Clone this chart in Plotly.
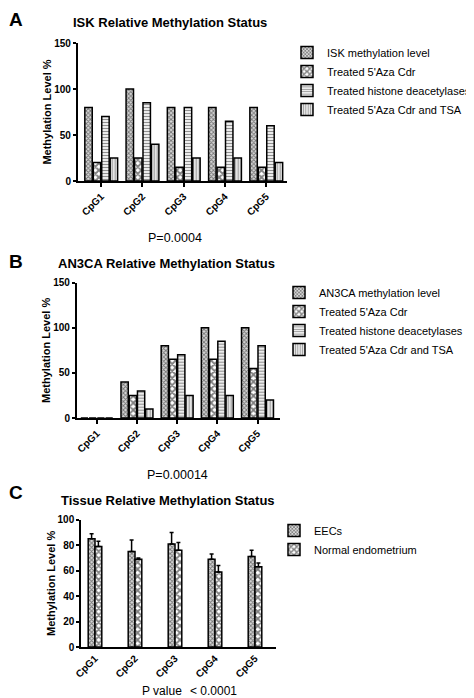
import plotly.graph_objects as go

W, H = 474, 698
# the page body adds an 8px offset; layout positions below are given in
# screenshot pixels and converted to paper fractions with that offset removed
OFF = 8

categories = ["CpG1", "CpG2", "CpG3", "CpG4", "CpG5"]

# Panel A (ISK)
a_names = ["ISK methylation level", "Treated 5'Aza Cdr",
           "Treated histone deacetylases", "Treated 5'Aza Cdr and TSA"]
a_isk = [80, 100, 80, 80, 80]
a_aza = [20, 25, 15, 15, 15]
a_hdac = [70, 85, 80, 65, 60]
a_tsa = [25, 40, 25, 25, 20]

# Panel B (AN3CA)
b_names = ["AN3CA methylation level", "Treated 5'Aza Cdr",
           "Treated histone deacetylases", "Treated 5'Aza Cdr and TSA"]
b_an3ca = [0, 40, 80, 100, 100]
b_aza = [0, 25, 65, 65, 55]
b_hdac = [0, 30, 70, 85, 80]
b_tsa = [0, 10, 25, 25, 20]

# Panel C (Tissue)
c_names = ["EECs", "Normal endometrium"]
c_eec = [85, 75, 81, 69, 71]
c_eec_err = [4, 9, 9, 4, 5]
c_norm = [79, 69, 76, 59, 63]
c_norm_err = [4, 1, 6, 5, 3]

FONT = "Liberation Sans, Arial, sans-serif"

def px_x(p):
    return (p - OFF) / W

def px_y(p):
    return 1 - (p - OFF) / H

patterns = [
    dict(shape="x", size=3, solidity=0.5, fgcolor="#111", bgcolor="#d8d8d8"),
    dict(shape="x", size=5, solidity=0.6, fgcolor="black", bgcolor="white"),
    dict(shape="-", size=3, solidity=0.45, fgcolor="#222", bgcolor="white"),
    dict(shape="|", size=3, solidity=0.35, fgcolor="#555", bgcolor="#e4e4e4"),
]

fig = go.Figure()

def add_bars(names, series, xa, ya, legend):
    for i, (n, s) in enumerate(zip(names, series)):
        fig.add_trace(go.Bar(
            x=categories, y=s, name=n, xaxis=xa, yaxis=ya, legend=legend,
            marker=dict(color="white", line=dict(color="black", width=1.5),
                        pattern=patterns[i]),
            offsetgroup=f"{xa}{i}",
        ))

add_bars(a_names, [a_isk, a_aza, a_hdac, a_tsa], "x", "y", "legend")
add_bars(b_names, [b_an3ca, b_aza, b_hdac, b_tsa], "x2", "y2", "legend2")

c_offsets = [-0.17, 0.0]
for i, (n, s, e) in enumerate(zip(c_names, [c_eec, c_norm], [c_eec_err, c_norm_err])):
    fig.add_trace(go.Bar(
        x=categories, y=s, name=n, xaxis="x3", yaxis="y3", legend="legend3",
        marker=dict(color="white", line=dict(color="black", width=1.5),
                    pattern=patterns[i]),
        width=0.17, offset=c_offsets[i],
        error_y=dict(type="data", symmetric=False, array=e,
                     arrayminus=[0] * len(e), color="black",
                     thickness=1.5, width=2),
    ))

tickfont = dict(family=FONT, size=10, color="black", weight="bold")
titlefont = dict(family=FONT, size=11, color="black", weight="bold")

def xaxis(dom, rng, ya, ticks="outside"):
    return dict(domain=dom, range=rng, anchor=ya, showline=True,
                linecolor="black", linewidth=1.5, ticks=ticks, ticklen=4,
                tickwidth=1.5, tickcolor="black", tickangle=-45,
                tickfont=tickfont, showgrid=False, zeroline=False,
                fixedrange=True)

def yaxis(dom, rng, dtick, xa, standoff):
    return dict(domain=dom, range=rng, anchor=xa, showline=True,
                linecolor="black", linewidth=1.5, ticks="outside", ticklen=3,
                tickwidth=1.5, tickcolor="black", dtick=dtick,
                tickfont=tickfont, showgrid=False, zeroline=False,
                title=dict(text="Methylation Level %", font=titlefont,
                           standoff=standoff),
                fixedrange=True)

legend_font = dict(family=FONT, size=11, color="black")

fig.update_layout(
    width=W, height=H,
    margin=dict(l=0, r=0, t=0, b=0, pad=0, autoexpand=False),
    paper_bgcolor="white", plot_bgcolor="white",
    barmode="group",
    bargap=0.18, bargroupgap=0.12,
    showlegend=True,
    font=dict(family=FONT, color="black"),
    xaxis=xaxis([px_x(77.7), px_x(287.3)], [-0.57, 4.51], "y"),
    yaxis=yaxis([px_y(181), px_y(43)], [0, 150], 50, "x", 0),
    xaxis2=xaxis([px_x(76.7), px_x(280)], [-0.5, 4.56], "y2"),
    yaxis2=yaxis([px_y(418), px_y(282.7)], [0, 150], 50, "x2", 0),
    xaxis3=xaxis([px_x(81), px_x(276)], [-0.35, 4.525], "y3", ticks=""),
    yaxis3=yaxis([px_y(647), px_y(519.7)], [0, 100], 20, "x3", 0),
    legend=dict(x=px_x(287), y=px_y(38), xanchor="left", yanchor="top",
                font=legend_font, bgcolor="rgba(0,0,0,0)"),
    legend2=dict(x=px_x(279), y=px_y(278), xanchor="left", yanchor="top",
                 font=legend_font, bgcolor="rgba(0,0,0,0)"),
    legend3=dict(x=px_x(274), y=px_y(516), xanchor="left", yanchor="top",
                 font=legend_font, bgcolor="rgba(0,0,0,0)"),
)

# panel letters, anchored at the left edge of the figure
fig.add_annotation(
    text="A", x=0, y=1, xref="paper", yref="paper",
    xanchor="left", yanchor="top", showarrow=False, borderpad=0,
    font=dict(family=FONT, size=19, color="black", weight="bold"),
)
for letter, y in [("B", 261), ("C", 492.5)]:
    fig.add_annotation(
        text=letter, x=0, y=px_y(y), xref="paper", yref="paper",
        xanchor="left", yanchor="middle", showarrow=False, borderpad=0,
        font=dict(family=FONT, size=19, color="black", weight="bold"),
    )

annotations = [
    ("ISK Relative Methylation Status", 170, 22.7, 13, True),
    ("AN3CA Relative Methylation Status", 166, 263.3, 13, True),
    ("Tissue Relative Methylation Status", 167.5, 500.7, 13, True),
    ("P=0.0004", 175, 238, 12.5, False),
    ("P=0.00014", 177, 475, 12.5, False),
    ("P value", 161.5, 691, 12, False),
    ("< 0.0001", 213, 691, 12, False),
]
for text, x, y, size, bold in annotations:
    fig.add_annotation(
        text=text, x=px_x(x), y=px_y(y), xref="paper", yref="paper",
        xanchor="center", yanchor="middle", showarrow=False,
        font=dict(family=FONT, size=size, color="black",
                  weight="bold" if bold else "normal"),
    )

fig.write_html("out.html")
